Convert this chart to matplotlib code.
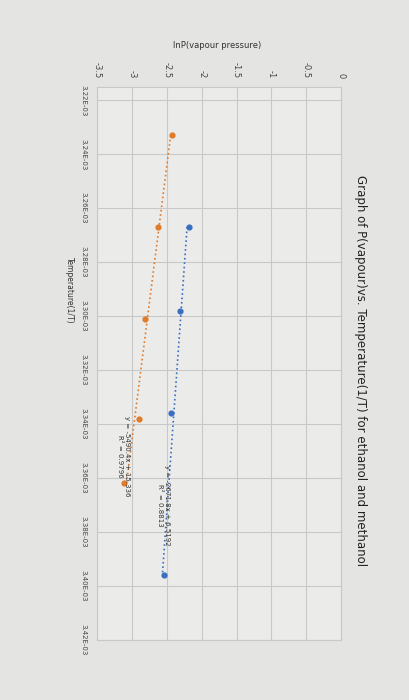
import numpy as np
import matplotlib
matplotlib.use("Agg")
import matplotlib.pyplot as plt

eth_x = [3.233e-3, 3.267e-3, 3.301e-3, 3.338e-3, 3.362e-3]
eth_y = [-2.43, -2.63, -2.81, -2.90, -3.11]
met_x = [3.267e-3, 3.298e-3, 3.336e-3, 3.396e-3]
met_y = [-2.18, -2.31, -2.44, -2.54]
x_ticks = [3.22e-3, 3.24e-3, 3.26e-3, 3.28e-3, 3.30e-3, 3.32e-3, 3.34e-3, 3.36e-3, 3.38e-3, 3.40e-3, 3.42e-3]
y_ticks = [0, -0.5, -1, -1.5, -2, -2.5, -3, -3.5]
eq_eth = "y = -5490.4x + 15.336\nR² = 0.9796"
eq_met = "y = -2671.8x + 6.5192\nR² = 0.8813"

fig = plt.figure(figsize=(4.1, 7), dpi=100, facecolor="#e4e4e2")
ax = fig.add_axes([0.237, 0.086, 0.595, 0.79], facecolor="#ebebea")
# chart is photographed rotated: lnP runs horizontally, 1/T runs downward
orange = "#e07b2a"; blue = "#3a6fc0"
for xs, ys, c in [(eth_x, eth_y, orange), (met_x, met_y, blue)]:
    m, b = np.polyfit(xs, ys, 1)
    xx = np.array([min(xs), max(xs)])
    ax.plot(m * xx + b, xx, ls=":", color=c, lw=1.2)
    ax.scatter(ys, xs, color=c, s=12, zorder=3)
ax.set_xlim(-3.5, 0)
ax.set_ylim(3.42e-3, 3.215e-3)
ax.set_xticks(y_ticks)
ax.set_xticklabels([f"{v:g}" for v in y_ticks], rotation=-90, fontsize=6, color="#444")
ax.set_yticks(x_ticks)
ax.set_yticklabels([f"{v:.2E}" for v in x_ticks], rotation=-90, fontsize=5, color="#444", va="center")
ax.xaxis.tick_top()
ax.tick_params(length=0)
ax.tick_params(axis="y", pad=8)
ax.tick_params(axis="x", pad=6)
ax.grid(True, color="#c8c8c8", lw=0.8)
for s in ax.spines.values():
    s.set_color("#c8c8c8")
ax.text(-3.12, 3.352e-3, eq_eth, rotation=-90, fontsize=5, ha="center", va="center", color="#333", multialignment="center")
ax.text(-2.55, 3.37e-3, eq_met, rotation=-90, fontsize=5, ha="center", va="center", color="#333", multialignment="center")
fig.text(0.88, 0.47, "Graph of P(vapour)vs. Temperature(1/T) for ethanol and methanol",
         rotation=-90, fontsize=8.5, ha="center", va="center", color="#222")
fig.text(0.17, 0.585, "Temperature(1/T)", rotation=-90, fontsize=5.5, ha="center", va="center", color="#333")
fig.text(0.53, 0.935, "lnP(vapour pressure)", fontsize=6, ha="center", va="center", color="#333")
fig.savefig("out.png", facecolor=fig.get_facecolor())
